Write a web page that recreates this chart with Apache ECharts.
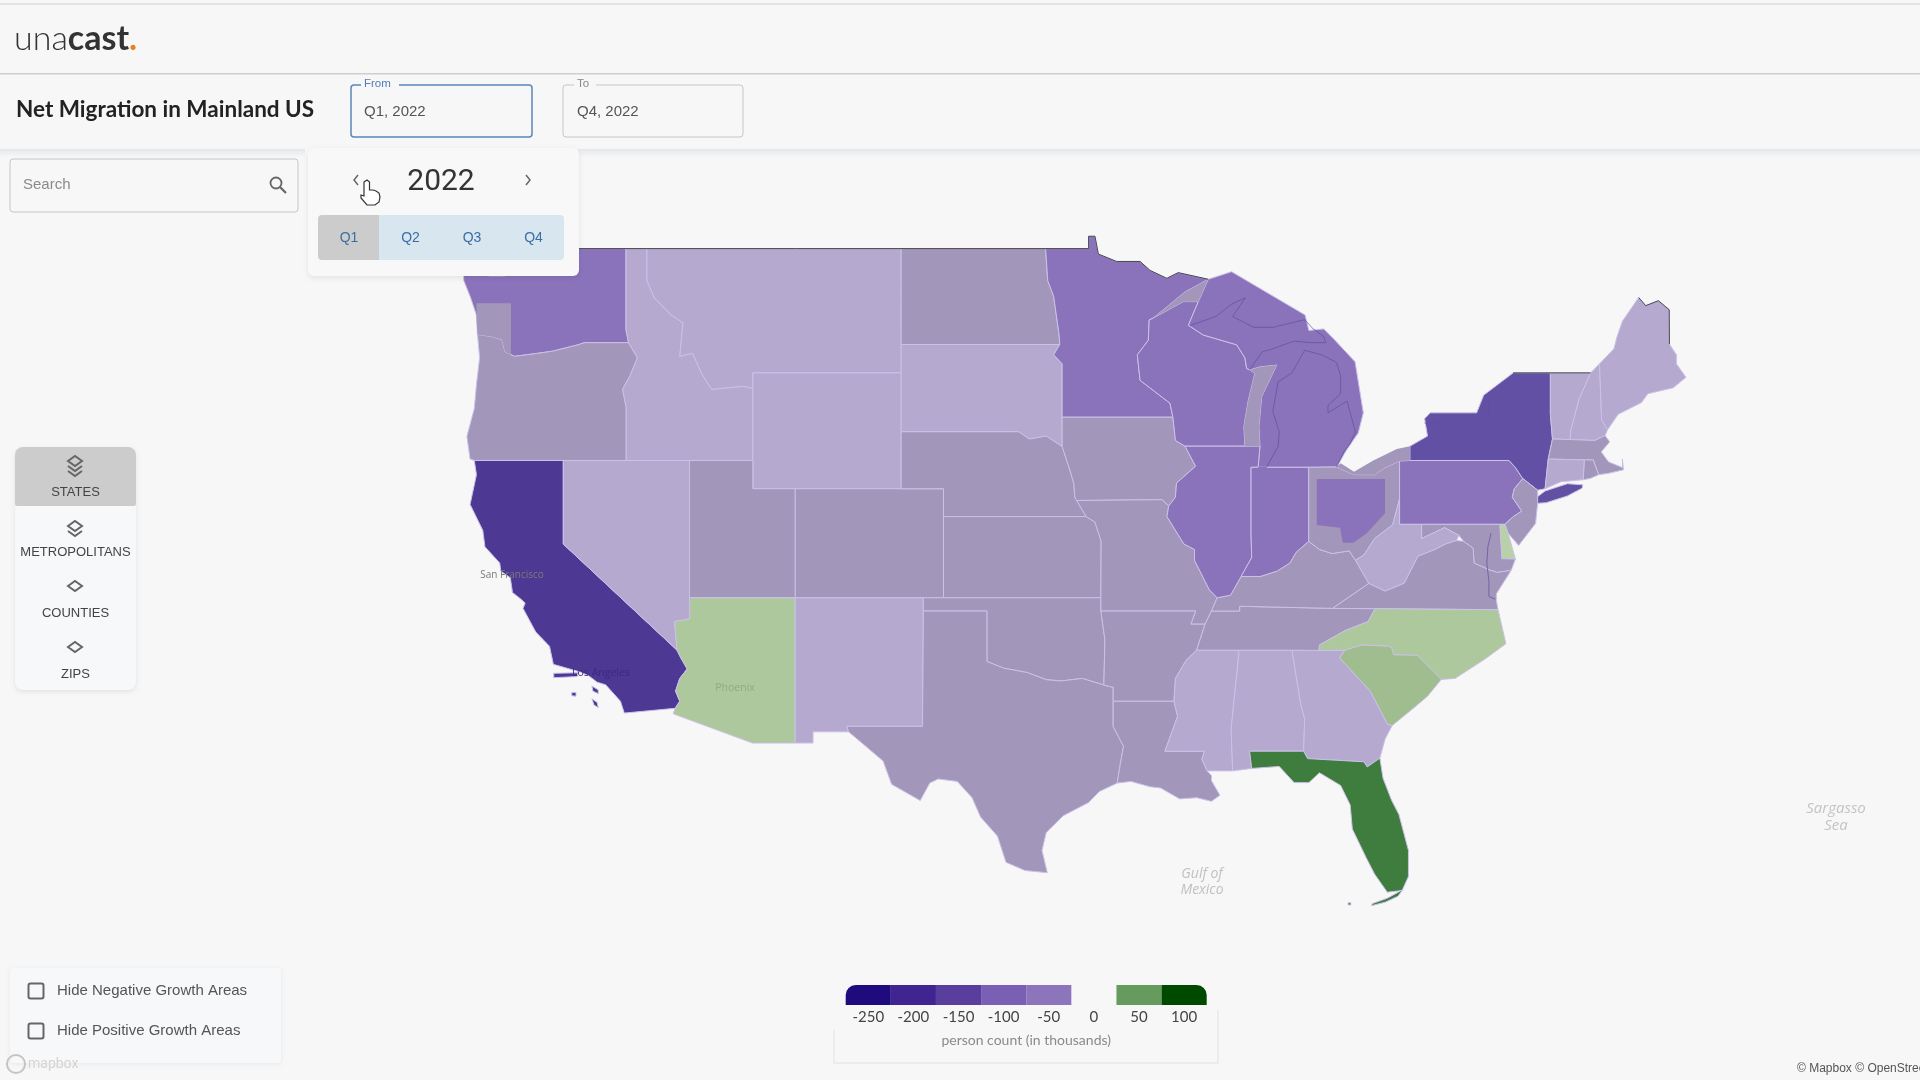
<!DOCTYPE html>
<html>

<head>
  <meta charset="utf-8">
  <title>Net Migration in Mainland US</title>
  <style>
    html, body { margin: 0; padding: 0; background: #f7f7f7; }
    #map { width: 1920px; height: 1080px; }
  </style>
</head>

<body>
  <div id="map"></div>
  <script src="https://cdn.jsdelivr.net/npm/echarts@6/dist/echarts.min.js"></script>
  <script type="text/javascript">
    // net migration per state, thousands of people
    const stateNames = ['California', 'New York',
      'Washington', 'Minnesota', 'Wisconsin', 'Michigan', 'Illinois', 'Indiana', 'Pennsylvania',
      'Ohio', 'Oregon', 'North Dakota', 'Nebraska', 'Iowa', 'Utah', 'Colorado', 'Kansas', 'Missouri',
      'Oklahoma', 'Arkansas', 'Texas', 'Louisiana', 'Kentucky', 'Tennessee', 'Virginia', 'Maryland',
      'New Jersey', 'Massachusetts', 'Rhode Island',
      'Idaho', 'Montana', 'Wyoming', 'South Dakota', 'Nevada', 'New Mexico', 'West Virginia',
      'Mississippi', 'Alabama', 'Georgia', 'Connecticut', 'Vermont', 'New Hampshire', 'Maine',
      'Delaware', 'Arizona', 'North Carolina', 'South Carolina', 'Florida'];
    const stateValues = [-250, -190,
      -90, -90, -90, -90, -90, -90, -90,
      -45, -45, -45, -45, -45, -45, -45, -45, -45,
      -45, -45, -45, -45, -45, -45, -45, -45,
      -45, -45, -45,
      -15, -15, -15, -15, -15, -15, -15,
      -15, -15, -15, -15, -15, -15, -15,
      5, 18, 20, 28, 100];

    // patches the tile layer paints differently from the state under them
    const patchNames = ['Ohio core', 'Washington coast', 'Lake Michigan', 'Lake Superior', 'Lake Erie'];
    const patchValues = [-90, -45, -45, -45, -45];

    const binEdges = [-225, -150, -70, -25, 0, 10, 22, 60];
    const binColors = ['#4d3893', '#6250a4', '#8a73bb', '#a296ba', '#b5a9cf', '#b9d1a6', '#aec89d', '#a0bd8f', '#3f7d3f'];

    const legendTicks = ['-250', '-200', '-150', '-100', '-50', '0', '50', '100'];
    const legendColors = ['#1f0a7e', '#3f2492', '#5a3e9d', '#7a60b4', '#8d75bc', 'transparent', '#659c5e', '#004a00'];

    const layerNames = ['STATES', 'METROPOLITANS', 'COUNTIES', 'ZIPS'];
    const quarterNames = ['Q1', 'Q2', 'Q3', 'Q4'];

    // outlines, lon,lat
    const shapes = {
      'Washington': ['-124.73,48.38 -123.5,48.15 -122.75,48.15 -122.8,49 -117.04,49 -117.04,46.42 -116.92,46 -119,46 -119.3,45.93 -120.5,45.72 -121.2,45.65 -122.3,45.55 -122.75,45.7 -122.9,46.1 -123.4,46.2 -124.05,46.27 -124.1,46.9 -124.4,47.5 -124.7,48'],
      'Oregon': ['-124.05,46.27 -123.4,46.2 -122.9,46.1 -122.75,45.7 -122.3,45.55 -121.2,45.65 -120.5,45.72 -119.3,45.93 -119,46 -116.92,46 -116.5,45.5 -116.85,44.9 -117.2,44.45 -117.03,43.83 -117.03,42 -124.2,42 -124.4,42.05 -124.55,42.84 -124.2,43.8 -124.1,44.6 -123.95,45.5'],
      'California': ['-124.2,42 -120,42 -120,39 -114.63,35 -114.45,34.7 -114.15,34.27 -114.5,33.9 -114.7,33.4 -114.5,33 -114.72,32.72 -117.12,32.53 -117.3,33 -118,33.65 -118.4,33.75 -118.8,34 -119.2,34.15 -120.47,34.45 -120.65,35.15 -121.3,35.7 -121.9,36.6 -121.8,36.8 -122,36.95 -122.4,37.2 -122.5,37.75 -122.95,38 -123,38.3 -123.7,38.9 -123.8,39.5 -124.4,40.44 -124.1,41.5',
        '-120.45,34.1 -119.3,34.12 -119.35,33.97 -120.45,33.93', '-118.65,33.6 -118.35,33.45 -118.35,33.3 -118.6,33.4', '-118.65,33.1 -118.4,32.95 -118.35,32.75 -118.55,32.85', '-119.6,33.35 -119.4,33.35 -119.4,33.2 -119.6,33.22'],
      'Nevada': ['-120,42 -117.03,42 -114.04,42 -114.04,36.2 -114.75,36.1 -114.63,35 -120,39'],
      'Idaho': ['-117.04,49 -116.05,49 -116.05,48 -115.7,47.45 -114.9,46.9 -114.35,46.65 -114.5,45.55 -113.9,45.65 -113.45,44.95 -113,44.45 -111.5,44.55 -111.05,44.48 -111.05,42 -114.04,42 -117.03,42 -117.03,43.83 -117.2,44.45 -116.85,44.9 -116.5,45.5 -116.92,46 -117.04,46.42'],
      'Montana': ['-116.05,49 -104.05,49 -104.05,45.94 -104.05,45 -111.05,45 -111.05,44.48 -111.5,44.55 -113,44.45 -113.45,44.95 -113.9,45.65 -114.5,45.55 -114.35,46.65 -114.9,46.9 -115.7,47.45 -116.05,48'],
      'Wyoming': ['-111.05,45 -104.05,45 -104.05,43 -104.05,41 -109.05,41 -111.05,41 -111.05,42 -111.05,44.48'],
      'Utah': ['-114.04,42 -111.05,42 -111.05,41 -109.05,41 -109.05,37 -114.04,37 -114.04,36.2'],
      'Colorado': ['-109.05,41 -104.05,41 -102.05,41 -102.05,40 -102.05,37 -103,37 -109.05,37'],
      'Arizona': ['-114.04,37 -109.05,37 -109.05,31.33 -111.07,31.33 -114.81,32.5 -114.72,32.72 -114.5,33 -114.7,33.4 -114.5,33.9 -114.15,34.27 -114.45,34.7 -114.63,35 -114.75,36.1 -114.04,36.2'],
      'New Mexico': ['-109.05,37 -103,37 -103,36.5 -103.04,32 -106.62,32 -106.53,31.78 -108.21,31.78 -108.21,31.33 -109.05,31.33'],
      'North Dakota': ['-104.05,49 -97.23,49 -97.13,48 -96.85,47.5 -96.6,46.3 -96.56,45.94 -104.05,45.94'],
      'South Dakota': ['-104.05,45.94 -96.56,45.94 -96.85,45.6 -96.45,45.3 -96.45,43.5 -96.45,42.49 -97.2,42.85 -98,42.75 -98.5,43 -104.05,43 -104.05,45'],
      'Nebraska': ['-104.05,43 -98.5,43 -98,42.75 -97.2,42.85 -96.45,42.49 -96.1,41.7 -95.9,41.2 -95.85,40.7 -95.31,40 -102.05,40 -102.05,41 -104.05,41'],
      'Kansas': ['-102.05,40 -95.31,40 -94.9,39.8 -94.61,39.11 -94.62,37 -102.05,37'],
      'Oklahoma': ['-103,37 -102.05,37 -94.62,37 -94.62,36.5 -94.43,35.4 -94.48,33.64 -95.5,33.9 -96.5,33.8 -97.2,33.85 -98.1,34.13 -99.2,34.3 -100,34.56 -100,36.5 -103,36.5'],
      'Texas': ['-103,36.5 -100,36.5 -100,34.56 -99.2,34.3 -98.1,34.13 -97.2,33.85 -96.5,33.8 -95.5,33.9 -94.48,33.64 -94.04,33.55 -94.04,33 -94.04,31.99 -93.55,31.2 -93.7,30.5 -93.85,29.7 -94.7,29.35 -95.2,28.9 -96.4,28.35 -97.2,27.65 -97.4,26.9 -97.15,25.96 -98.2,26.05 -99.1,26.4 -99.5,27.5 -100.3,28.3 -100.7,29.1 -101.4,29.77 -102.3,29.87 -102.7,29.7 -103.15,28.98 -104.5,29.65 -104.9,30.6 -106,31.4 -106.53,31.78 -106.62,32 -103.04,32'],
      'Minnesota': ['-97.23,49 -95.2,49 -95.2,49.38 -94.9,49.38 -94.74,48.83 -93.88,48.6 -92.77,48.6 -92.3,48.32 -91.51,48.07 -90.97,48.25 -89.55,48.04 -90.65,47.64 -92.15,46.8 -92.34,46.74 -92.38,46.08 -92.9,45.6 -92.77,44.75 -91.36,43.98 -91.22,43.5 -96.45,43.5 -96.45,45.3 -96.85,45.6 -96.56,45.94 -96.6,46.3 -96.85,47.5 -97.13,48'],
      'Iowa': ['-96.45,43.5 -91.22,43.5 -91.1,42.7 -90.65,42.5 -90.15,41.8 -91.05,41.2 -91.1,40.7 -91.42,40.38 -91.73,40.61 -95.77,40.58 -95.85,40.7 -95.9,41.2 -96.1,41.7 -96.45,42.49'],
      'Missouri': ['-95.77,40.58 -91.73,40.61 -91.42,40.38 -91.5,40 -90.7,39 -90.2,38.8 -90.2,38.4 -89.5,37.3 -89.13,37 -89.4,36.5 -89.7,36 -90.37,36 -90.15,36.5 -94.62,36.5 -94.62,37 -94.61,39.11 -94.9,39.8 -95.31,40'],
      'Arkansas': ['-94.62,36.5 -90.15,36.5 -90.37,36 -89.7,36 -90.1,35 -90.6,34.6 -91.1,33.9 -91.17,33 -94.04,33 -94.04,33.55 -94.48,33.64 -94.43,35.4'],
      'Louisiana': ['-94.04,33 -91.17,33 -91,32.4 -91.6,31 -89.73,31 -89.85,30.67 -89.6,30.2 -89.4,30 -89.4,29.8 -89,29.2 -89.4,28.95 -90.1,29.1 -90.9,29.05 -91.8,29.5 -92.3,29.55 -93.2,29.77 -93.85,29.7 -93.7,30.5 -93.55,31.2 -94.04,31.99'],
      'Mississippi': ['-90.1,35 -88.2,35 -88.1,34.9 -88.47,31.9 -88.4,30.2 -89.6,30.2 -89.85,30.67 -89.73,31 -91.6,31 -91,32.4 -91.17,33 -91.1,33.9 -90.6,34.6'],
      'Alabama': ['-88.2,35 -85.6,35 -85.18,32.87 -85,32.3 -85.05,31 -87.6,31 -87.5,30.3 -88.4,30.2 -88.47,31.9 -88.1,34.9'],
      'Georgia': ['-85.6,35 -84.32,34.99 -83.1,35 -83.35,34.7 -81.9,33.4 -81.4,32.6 -81.1,32.1 -80.87,32.03 -81.2,31.5 -81.45,30.72 -82.05,30.36 -82.2,30.57 -84.86,30.7 -85.05,31 -85,32.3 -85.18,32.87'],
      'Florida': ['-87.5,30.3 -87.6,31 -85.05,31 -84.86,30.7 -82.2,30.57 -82.05,30.36 -81.45,30.72 -81.3,29.9 -80.9,29 -80.55,28.4 -80.1,26.9 -80.1,25.8 -80.4,25.2 -81.1,25.13 -81.7,25.9 -82.1,26.6 -82.75,27.8 -82.85,28.8 -83.3,29.6 -84.3,30.12 -84.8,29.72 -85.5,29.72 -86.2,30.38',
        '-80.35,25.25 -80.6,24.95 -81.2,24.7 -81.85,24.55 -81.8,24.64 -81.1,24.87 -80.6,25.12', '-82.95,24.68 -82.82,24.68 -82.82,24.58 -82.95,24.58'],
      'Tennessee': ['-90.1,35 -89.7,36 -89.4,36.5 -88.07,36.5 -88.07,36.68 -83.68,36.6 -81.68,36.59 -82,36.1 -83.1,35.75 -84.3,35.2 -84.32,34.99 -85.6,35 -88.2,35'],
      'Kentucky': ['-89.4,36.5 -89.13,37 -88.5,37.1 -88,37.8 -87.1,37.8 -86.3,38 -85.7,38.3 -85.4,38.7 -84.81,39.1 -84.3,38.8 -83.7,38.65 -82.9,38.75 -82.6,38.4 -81.97,37.54 -83.68,36.6 -88.07,36.68 -88.07,36.5'],
      'Wisconsin': ['-92.34,46.74 -92.15,46.8 -90.73,47.33 -90.02,47.33 -90.49,46.57 -89.79,46.25 -88.21,45.93 -87.82,45.5 -87.74,45.15 -87.58,45.1 -87.35,44.98 -87.66,44.08 -87.87,43.18 -87.82,42.5 -90.65,42.5 -91.1,42.7 -91.22,43.5 -91.36,43.98 -92.77,44.75 -92.9,45.6 -92.38,46.08'],
      'Michigan': ['-89.55,48.04 -88.45,48.28 -84.98,46.9 -84.8,46.4 -84.1,46.45 -83.57,46.08 -82.62,45.37 -82.23,43.65 -82.47,42.96 -83.02,42.37 -83.49,41.77 -84.81,41.76 -87.2,41.76 -87.11,42.5 -87.16,43.18 -87.03,44.2 -86.32,45.26 -87.11,45.2 -87.58,45.1 -87.74,45.15 -87.82,45.5 -88.21,45.93 -89.79,46.25 -90.49,46.57 -90.02,47.33'],
      'Illinois': ['-90.65,42.5 -87.82,42.5 -87.11,42.5 -87.2,41.76 -87.53,41.76 -87.53,39.35 -87.5,38.5 -88,37.8 -88.5,37.1 -89.13,37 -89.5,37.3 -90.2,38.4 -90.2,38.8 -90.7,39 -91.5,40 -91.42,40.38 -91.1,40.7 -91.05,41.2 -90.15,41.8'],
      'Indiana': ['-87.53,41.76 -84.81,41.76 -84.81,39.1 -85.4,38.7 -85.7,38.3 -86.3,38 -87.1,37.8 -88,37.8 -87.5,38.5 -87.53,39.35'],
      'Ohio': ['-84.81,41.76 -83.49,41.77 -82.67,41.5 -81.7,41.5 -81.2,41.75 -80.52,41.98 -80.52,40.64 -80.6,40.4 -80.85,39.7 -81.7,39.2 -82.2,38.6 -82.6,38.4 -82.9,38.75 -83.7,38.65 -84.3,38.8 -84.81,39.1'],
      'Pennsylvania': ['-80.52,41.98 -80.03,42 -75.35,42 -75.05,41.75 -74.7,41.36 -75.1,41 -75.2,40.7 -74.75,40.2 -75.15,40 -75.55,39.72 -75.79,39.72 -79.48,39.72 -80.52,39.72 -80.52,40.64'],
      'New York': ['-75.16,45 -73.4,45 -73.4,43.6 -73.3,42.75 -73.5,42.05 -73.65,41 -74,40.95 -74.7,41.36 -75.05,41.75 -75.35,42 -80.03,42 -80.03,42.5 -79.2,42.85 -79.34,43.45 -79.07,43.65 -76.88,43.65 -76.55,44.25',
        '-74.2,40.47 -74,40.72 -73.65,40.92 -72.6,41.18 -71.87,41.14 -71.9,41.02 -72.6,40.74 -73.6,40.5'],
      'Vermont': ['-73.4,45 -71.5,45 -72.05,44.1 -72.45,43 -72.46,42.73 -73.3,42.75 -73.4,43.6'],
      'New Hampshire': ['-71.5,45 -71.08,45.3 -70.98,43.4 -70.7,43.07 -70.82,42.87 -71.3,42.7 -72.46,42.73 -72.45,43 -72.05,44.1'],
      'Maine': ['-71.08,45.3 -70.4,45.8 -70.25,46.2 -70,46.7 -69.23,47.46 -68.9,47.2 -68.3,47.36 -67.79,47.07 -67.78,45.95 -67.45,45.6 -67.45,45.3 -67,44.85 -67.6,44.5 -68.8,44.3 -69.1,44 -70.2,43.6 -70.7,43.07 -70.98,43.4'],
      'Massachusetts': ['-73.3,42.75 -72.46,42.73 -71.3,42.7 -70.82,42.87 -70.6,42.65 -71,42.3 -70.65,41.95 -70,41.75 -70,42.05 -69.95,41.67 -70.65,41.55 -71.12,41.5 -71.38,42.02 -71.8,42.02 -73.5,42.05'],
      'Rhode Island': ['-71.8,42.02 -71.38,42.02 -71.12,41.5 -71.5,41.37 -71.85,41.32'],
      'Connecticut': ['-73.5,42.05 -71.8,42.02 -71.85,41.32 -72.9,41.25 -73.65,41'],
      'New Jersey': ['-74.7,41.36 -74,40.95 -74,40.5 -74.1,39.75 -74.9,38.95 -75.4,39.4 -75.55,39.72 -75.15,40 -74.75,40.2 -75.2,40.7 -75.1,41'],
      'Delaware': ['-75.79,39.72 -75.55,39.72 -75.4,39.4 -75.05,38.45 -75.69,38.46'],
      'Maryland': ['-79.48,39.72 -75.79,39.72 -75.69,38.46 -75.05,38.45 -75.25,38.03 -75.9,37.95 -76.3,38.05 -77,38.3 -77.05,38.85 -77.5,39.1 -77.72,39.32 -78.4,39.6 -79.48,39.2'],
      'West Virginia': ['-80.52,40.64 -80.52,39.72 -79.48,39.72 -79.48,39.2 -78.4,39.6 -77.72,39.32 -77.83,39.13 -78.35,39 -78.85,38.8 -79.65,38.55 -80.3,37.55 -81.2,37.25 -81.97,37.54 -82.6,38.4 -82.2,38.6 -81.7,39.2 -80.85,39.7 -80.6,40.4'],
      'Virginia': ['-83.68,36.6 -81.68,36.59 -75.87,36.55 -75.95,36.9 -75.95,37.15 -75.25,38.03 -75.9,37.95 -76.3,38.05 -77,38.3 -77.05,38.85 -77.5,39.1 -77.83,39.13 -78.35,39 -78.85,38.8 -79.65,38.55 -80.3,37.55 -81.2,37.25 -81.97,37.54'],
      'North Carolina': ['-84.32,34.99 -84.3,35.2 -83.1,35.75 -82,36.1 -81.68,36.59 -75.87,36.55 -75.5,35.25 -76.5,34.65 -77.9,33.9 -78.55,33.86 -79.67,34.8 -80.8,34.82 -80.9,35.1 -81.05,35.15 -82.3,35.2 -83.1,35'],
      'South Carolina': ['-83.1,35 -82.3,35.2 -81.05,35.15 -80.9,35.1 -80.8,34.82 -79.67,34.8 -78.55,33.86 -79.2,33.2 -79.9,32.7 -80.87,32.03 -81.1,32.1 -81.4,32.6 -81.9,33.4 -83.35,34.7'],
      'Ohio core': ['-84.43,41.35 -81.21,41.35 -81.21,40.12 -82.07,39.4 -82.7,39.05 -83.2,39.05 -83.33,39.6 -84.43,39.7'],
      'Washington coast': ['-124.1,47.28 -122.47,47.28 -122.47,45.6 -122.75,45.7 -122.9,46.1 -123.4,46.2 -124.05,46.27 -124.1,46.9'],
      'Lake Michigan': ['-87.11,45.2 -86.32,45.26 -87.03,44.2 -87.16,43.18 -87.11,42.5 -87.82,42.5 -87.87,43.18 -87.66,44.08 -87.35,44.98 -87.58,45.1'],
      'Lake Superior': ['-92.15,46.8 -90.65,47.64 -89.55,48.04 -90.02,47.33 -90.73,47.33'],
      'Lake Erie': ['-83.49,41.77 -82.67,41.5 -81.7,41.5 -81.2,41.75 -80.52,41.98 -80.03,42 -80.03,42.5 -80.65,42.4 -81.76,42 -82.67,41.6 -83.3,41.9']
    };

    // dark basemap coast and border lines that show through the fill
    const darkTraces = [
      '-122.8,49 -95.2,49 -95.2,49.38 -94.9,49.38 -94.74,48.83 -93.88,48.6 -92.77,48.6 -92.3,48.32 -91.51,48.07 -90.97,48.25 -89.55,48.04',
      '-75.16,45 -71.5,45',
      '-69.23,47.46 -68.9,47.2 -68.3,47.36 -67.79,47.07 -67.78,45.95'
    ];
    const shoreTraces = [
      '-87.2,41.76 -86.8,41.76 -86.25,42.5 -86.2,43 -86.5,43.7 -86.25,44.7 -85.6,45 -85,45.75 -84.2,45.6 -83.5,45.35 -83.3,44.9 -83.3,44.3 -83.9,43.9 -83.9,43.65 -83,44.05 -82.6,43 -82.85,42.6 -83.15,42.3 -83.49,41.77',
      '-90.4,46.56 -89.2,46.85 -88.45,47.25 -87.8,47.45 -88.4,46.85 -87.4,46.5 -86.5,46.5 -85,46.75 -84.6,46.45 -84.1,46.2 -84,46 -84.7,46 -85.5,46.05 -86.5,45.8 -87,45.7 -87.6,45.1',
      '-79.34,43.3 -77.5,43.25 -76.3,43.55 -76.3,44.1 -75.9,44.35',
      '-76.2,39.4 -76.35,38.9 -76.4,38.3 -76.3,37.6 -76.3,37.05 -76,36.95'
    ];

    const toCoords = s => s.split(' ').map(p => p.split(',').map(Number));
    const mercator = lat => Math.log(Math.tan(Math.PI / 4 + lat * Math.PI / 360)) * 180 / Math.PI;

    echarts.registerMap('lower48', {
      type: 'FeatureCollection',
      features: Object.keys(shapes).map(name => ({
        type: 'Feature',
        properties: { name: name },
        geometry: {
          type: 'MultiPolygon',
          coordinates: shapes[name].map(s => [toCoords(s).concat([toCoords(s)[0]])])
        }
      }))
    });

    const font = (size, family, weight) => (weight || 'normal') + ' ' + size + 'px ' + family;
    const uiFont = 'Liberation Sans';
    const bandFill = { type: 'linear', x: 0, y: 0, x2: 0, y2: 1, colorStops: [{ offset: 0, color: '#e4e7ea' }, { offset: 1, color: '#f7f7f7' }] };
    const box = (x, y, w, h, fill, stroke, r, extra) => ({
      type: 'rect', z: 10, silent: true,
      shape: { x: x, y: y, width: w, height: h, r: r || 0 },
      style: Object.assign({ fill: fill, stroke: stroke || null, lineWidth: 1 }, extra)
    });
    const label = (x, y, text, f, fill, align) => ({
      type: 'text', z: 12, silent: true, x: x, y: y,
      style: { text: text, font: f, fill: fill, align: align || 'left', verticalAlign: 'middle' }
    });
    const stroke = (points, color, width, z) => ({
      type: 'polyline', z: z || 12, silent: true,
      shape: { points: points },
      style: { stroke: color, lineWidth: width, fill: null }
    });
    const diamond = (cx, cy) => ({
      type: 'polygon', z: 12, silent: true,
      shape: { points: [[cx - 7, cy], [cx, cy - 5], [cx + 7, cy], [cx, cy + 5]] },
      style: { fill: null, stroke: '#666', lineWidth: 2 }
    });
    const chevronDown = (cx, cy) => stroke([[cx - 7, cy], [cx, cy + 5], [cx + 7, cy]], '#666', 2);

    const chrome = [
      // header
      box(0, 3, 1920, 2, '#e2e2e2'),
      box(0, 73, 1920, 1.5, '#cfcfcf'),
      {
        type: 'text', z: 12, silent: true, x: 14, y: 39,
        style: {
          text: '{a|una}{b|cast}{c|.}', verticalAlign: 'middle',
          rich: {
            a: { font: font(34, 'Lato', '300'), fill: '#333' },
            b: { font: font(34, 'Lato', 'bold'), fill: '#333' },
            c: { font: font(34, 'Lato', 'bold'), fill: '#e8821e' }
          }
        }
      },
      label(16, 110, 'Net Migration in Mainland US', font(22.5, 'Lato', 'bold'), '#222'),
      box(0, 149, 305, 8, bandFill),
      box(578, 149, 1342, 8, bandFill),

      // date fields
      box(351, 85, 181, 52, 'transparent', '#5b87bb', 3, { lineWidth: 1.5 }),
      box(361, 80, 38, 8, '#f7f7f7'),
      label(364, 84, 'From', font(11.5, uiFont), '#4f7fb5'),
      label(364, 112, 'Q1, 2022', font(15, uiFont), '#555'),
      box(563, 85, 180, 52, 'transparent', '#c6c6c6', 3),
      box(574, 80, 22, 8, '#f7f7f7'),
      label(577, 84, 'To', font(11.5, uiFont), '#888'),
      label(577, 112, 'Q4, 2022', font(15, uiFont), '#555'),

      // search
      box(10, 159, 288, 53, 'transparent', '#c6c6c6', 3),
      label(23, 185, 'Search', font(15, uiFont), '#8a8a8a'),
      { type: 'circle', z: 12, silent: true, shape: { cx: 276, cy: 183, r: 5.5 }, style: { fill: null, stroke: '#666', lineWidth: 1.8 } },
      stroke([[280, 187], [286, 193]], '#666', 2.2),

      // quarter picker
      box(308, 148, 271, 128, '#f8f8f8', null, 6, { shadowBlur: 5, shadowColor: 'rgba(0,0,0,0.08)', shadowOffsetY: 2 }),
      label(441, 182, '2022', font(30, 'Roboto'), '#333', 'center'),
      stroke([[358, 175], [354, 180], [358, 185]], '#666', 1.5),
      stroke([[526, 175], [530, 180], [526, 185]], '#666', 1.5),
      box(318, 215, 61, 45, '#cccccc', null, [4, 0, 0, 4]),
      box(379, 215, 185, 45, '#d8e6f0', null, [0, 4, 4, 0]),
      {
        type: 'polygon', z: 13, silent: true,
        shape: { points: [[364, 182], [367, 180], [369.5, 182], [369.5, 190], [373, 190], [376, 191], [379, 193], [380, 197], [379, 202], [375, 205], [367, 205], [361, 198], [361, 195], [364, 196]] },
        style: { fill: '#fff', stroke: '#333', lineWidth: 1.2 }
      },

      // layer buttons
      box(15, 447, 121, 243, '#f7f8f9', null, 8, { shadowBlur: 4, shadowColor: 'rgba(0,0,0,0.08)', shadowOffsetY: 2 }),
      box(15, 447, 121, 59, '#cccccc', null, [8, 8, 2, 2]),
      diamond(75, 461), chevronDown(75, 466), chevronDown(75, 471),
      diamond(75, 526), chevronDown(75, 531),
      diamond(75, 586),
      diamond(75, 647),

      // hide toggles
      box(10, 968, 271, 95, '#f7f8f9', null, 4, { shadowBlur: 4, shadowColor: 'rgba(0,0,0,0.06)', shadowOffsetY: 1 }),
      box(28.5, 983.5, 15, 15, 'transparent', '#666', 2, { lineWidth: 2 }),
      box(28.5, 1023.5, 15, 15, 'transparent', '#666', 2, { lineWidth: 2 }),
      label(57, 991, 'Hide Negative Growth Areas', font(15, uiFont), '#555'),
      label(57, 1031, 'Hide Positive Growth Areas', font(15, uiFont), '#555'),
      { type: 'circle', z: 12, silent: true, shape: { cx: 16, cy: 1064, r: 9 }, style: { fill: null, stroke: '#c4c4c4', lineWidth: 2 } },
      label(28, 1064, 'mapbox', font(14, 'Roboto'), '#d4d4d4'),

      // legend card edges
      stroke([[834, 1030], [834, 1063], [1218, 1063], [1218, 1010]], '#ececec', 2, 1),

      // basemap labels
      label(1202, 874, 'Gulf of', 'italic ' + font(14, 'Open Sans'), '#c0c0c0', 'center'),
      label(1202, 890, 'Mexico', 'italic ' + font(14, 'Open Sans'), '#c0c0c0', 'center'),
      label(1836, 809, 'Sargasso', 'italic ' + font(15, 'Open Sans'), '#c4c4c4', 'center'),
      label(1836, 826, 'Sea', 'italic ' + font(15, 'Open Sans'), '#c4c4c4', 'center'),
      label(512, 575, 'San Francisco', font(10, 'Open Sans'), '#7a7a7a', 'center'),
      label(601, 673, 'Los Angeles', font(10.5, 'Open Sans'), '#3c2a80', 'center'),
      label(735, 688, 'Phoenix', font(10.5, 'Open Sans'), '#90ab84', 'center'),
      label(1797, 1069, '\u00a9 Mapbox \u00a9 OpenStree', font(12, uiFont), '#555')
    ];
    quarterNames.forEach((q, i) => {
      chrome.push(label(349 + i * 61.5, 238, q, font(14, uiFont), '#3a6ea5', 'center'));
    });
    layerNames.forEach((name, i) => {
      chrome.push(label(75.5, 492 + i * 60.7, name, font(13, uiFont), '#444', 'center'));
    });

    const chart = echarts.init(document.getElementById('map'));
    chart.setOption({
      animation: false,
      backgroundColor: '#f7f7f7',
      geo: {
        map: 'lower48',
        silent: true,
        left: 463.1,
        top: 248.6,
        width: 1223.9,
        height: 646.6,
        boundingCoords: [[-124.73, 49], [-66.95, 25]],
        projection: {
          project: c => [c[0], -mercator(c[1])],
          unproject: p => [p[0], (Math.atan(Math.exp(-p[1] * Math.PI / 180)) * 360 / Math.PI) - 90]
        },
        label: { show: false },
        itemStyle: { borderColor: '#cbc1e8', borderWidth: 1, areaColor: '#b5a9cf' },
        emphasis: { disabled: true },
        regions: patchNames.map(name => ({ name: name, itemStyle: { borderWidth: 0 } }))
      },
      visualMap: {
        show: false,
        type: 'piecewise',
        seriesIndex: 0,
        pieces: binColors.map((color, i) => {
          const piece = { color: color };
          if (i > 0) piece.gt = binEdges[i - 1];
          if (i < binEdges.length) piece.lte = binEdges[i];
          return piece;
        })
      },
      grid: { left: 845.7, top: 985, width: 361, height: 20 },
      xAxis: {
        type: 'category',
        data: legendTicks,
        axisLine: { show: false },
        axisTick: { show: false },
        axisLabel: { color: '#444', fontFamily: 'Lato', fontSize: 15, margin: 5 },
        name: 'person count (in thousands)',
        nameLocation: 'middle',
        nameGap: 28,
        nameTextStyle: { color: '#8a8a8a', fontFamily: 'Lato', fontSize: 14 }
      },
      yAxis: { type: 'value', min: 0, max: 1, show: false },
      series: [
        {
          type: 'map',
          geoIndex: 0,
          data: stateNames.concat(patchNames).map((name, i) => ({
            name: name,
            value: stateValues.concat(patchValues)[i]
          }))
        },
        {
          type: 'lines',
          coordinateSystem: 'geo',
          polyline: true,
          silent: true,
          z: 3,
          lineStyle: { color: '#333', width: 1, opacity: 0.85 },
          data: darkTraces.map(s => ({ coords: toCoords(s) }))
        },
        {
          type: 'lines',
          coordinateSystem: 'geo',
          polyline: true,
          silent: true,
          z: 3,
          lineStyle: { color: '#5f4ea0', width: 1, opacity: 0.7 },
          data: shoreTraces.map(s => ({ coords: toCoords(s) }))
        },
        {
          type: 'bar',
          barWidth: '100%',
          silent: true,
          data: legendTicks.map((t, i) => ({
            value: 1,
            itemStyle: {
              color: legendColors[i],
              borderRadius: i === 0 ? [10, 0, 0, 0] : (i === legendTicks.length - 1 ? [0, 10, 0, 0] : 0)
            }
          }))
        }
      ],
      graphic: chrome
    });
    window.addEventListener('resize', chart.resize);
  </script>
</body>

</html>
